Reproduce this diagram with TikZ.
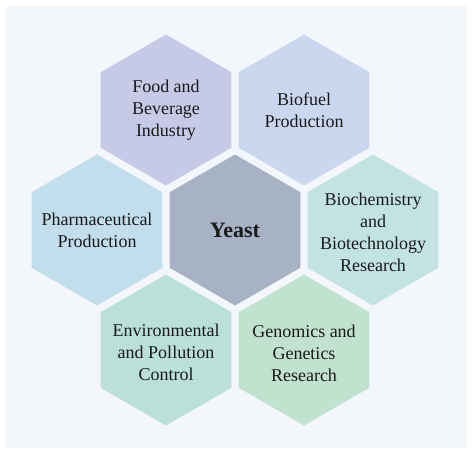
\documentclass[tikz,border=0pt]{standalone}
\usepackage{fontspec}
\setmainfont{Liberation Serif}
\usetikzlibrary{shapes.geometric}
\definecolor{bgpanel}{HTML}{F3F6FB}
\definecolor{cfood}{HTML}{C6CAE6}
\definecolor{cbio}{HTML}{CBD6EF}
\definecolor{cpharma}{HTML}{C2DDEC}
\definecolor{cyeast}{HTML}{A7B3C5}
\definecolor{cchem}{HTML}{C3E2E4}
\definecolor{cenv}{HTML}{BAE0D9}
\definecolor{cgen}{HTML}{C2E2D0}
\definecolor{txt}{HTML}{1A1A1A}
\tikzset{
  hexa/.style={regular polygon, regular polygon sides=6, shape border rotate=30,
    minimum size=151pt, inner sep=0pt, draw=none, fill=#1},
  hexlabel/.style={align=center, font=\fontsize{18}{22}\selectfont, text=txt, inner sep=0pt},
}
\begin{document}
\begin{tikzpicture}[x=1pt,y=1pt]
\useasboundingbox (0,0) rectangle (474,455);
\fill[white] (0,0) rectangle (474,455);
\fill[bgpanel] (6,7) rectangle (467,449);
% hexagons
\node[hexa=cfood] (food) at (166,345) {};
\node[hexa=cbio] (biofuel) at (304,345) {};
\node[hexa=cpharma] (pharma) at (97,225) {};
\node[hexa=cyeast] (yeast) at (235,225) {};
\node[hexa=cchem] (chem) at (373,225) {};
\node[hexa=cenv] (env) at (166,105) {};
\node[hexa=cgen] (gen) at (304,105) {};
% labels
\node[hexlabel] (tfood) at (food.center) {Food and\\Beverage\\Industry};
\node[hexlabel] (tbio) at (biofuel.center) {Biofuel\\Production};
\node[hexlabel] (tpharma) at (pharma.center) {Pharmaceutical\\Production};
\node[align=center, font=\fontsize{22}{26}\selectfont\bfseries, text=txt, inner sep=0pt] (tyeast) at (yeast.center) {Yeast};
\node[hexlabel] (tchem) at ([yshift=-2pt]chem.center) {Biochemistry\\and\\Biotechnology\\Research};
\node[hexlabel] (tenv) at ([yshift=-2pt]env.center) {Environmental\\and Pollution\\Control};
\node[hexlabel] (tgen) at ([yshift=-3pt]gen.center) {Genomics and\\Genetics\\Research};
\end{tikzpicture}
\end{document}
